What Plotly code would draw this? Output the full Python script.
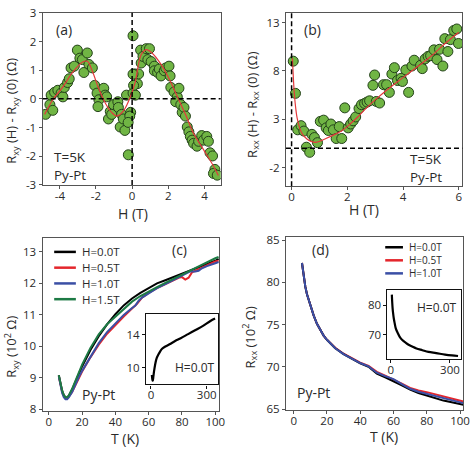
import plotly.graph_objects as go

# ---------------- data ----------------
# (a) Rxy(H)-Rxy(0) vs H at 5 K
a_H = [-4.79, -4.55, -4.39, -4.48, -4.29, -4.11, -3.93, -3.83, -3.75, -3.57, -3.48, -3.38, -3.2, -3.03,
       -2.89, -2.75, -2.67, -2.48, -2.39, -2.2, -2.07, -1.94, -1.84, -1.89, -1.57, -1.49, -1.41, -1.21,
       -1.31, -1.13, -1.03, -0.79, -0.76, -0.58, -0.66, -0.49, -0.40, -0.31, -0.21, -0.08, -0.13, -0.22,
       0.05, 0.05, 0.18, 0.15, 0.29, 0.36, 0.5, 0.47, 0.6, 0.78, 0.96, 0.87, 1.05, 1.23, 1.23, 1.41, 1.5,
       1.6, 1.78, 1.86, 2.04, 2.1, 2.14, 2.32, 2.5, 2.59, 2.41, 2.69, 2.77, 2.87, 2.95, 3.05, 3.14, 3.22,
       3.32, 3.40, 3.59, 3.68, 3.85, 3.95, 4.13, 4.22, 4.31, 4.45, 4.58, 4.5, 4.71, 0.08, 0.05]
a_R = [-0.54, -0.2, -0.4, 0.13, 0.23, 0.3, 0.2, 0.07, 0.4, 0.57, 0.7, 1.08, 1.14, 1.7,
       1.42, 1.37, 0.92, 1.6, 1.2, 1.08, 0.47, 0.2, -0.03, -0.27, 0.37, 0.13, 0.07, -0.44,
       -0.7, -0.54, -0.2, -0.1, -0.3, -0.54, -0.98, -0.7, -1.1, 0.13, -1.95, -0.47, -0.6, -0.82,
       2.2, 0.2, 0.13, 0.87, 0.53, 0.87, 1.25, 1.7, 1.48, 1.75, 1.75, 1.37, 1.3, 1.14, 0.98, 0.92, 1.04,
       0.8, 0.98, 1.08, 1.14, 0.8, 0.4, 0.24, 0.07, 0.37, -0.1, -0.2, -0.47, -0.3, -0.6, -0.98, -1.15, -1.31,
       -1.44, -1.55, -1.65, -1.48, -1.28, -1.44, -1.31, -1.48, -1.88, -1.99, -2.46, -2.6, -2.66, 0.47, 0.86]
a_fitH = [-4.84, -4.39, -3.84, -3.3, -2.76, -2.48, -2.21, -1.85, -1.48, -1.12, -0.85, -0.49, -0.13,
          0.15, 0.5, 0.78, 1.1, 1.6, 2.14, 2.5, 2.95, 3.4, 3.95, 4.49, 4.77]
a_fitR = [-0.54, -0.03, 0.41, 0.92, 1.28, 1.31, 0.98, 0.36, -0.15, -0.48, -0.6, -0.43, 0.02,
          0.53, 1.54, 1.72, 1.6, 1.2, 0.58, 0.08, -0.54, -1.21, -1.77, -2.33, -2.67]

# (b) Rxx(H)-Rxx(0) vs H at 5 K
b_H = [0.06, 0.14, 0.22, 0.34, 0.44, 0.53, 0.65, 0.73, 0.82, 0.93, 1.03, 1.15, 1.24, 1.32, 1.41, 1.5,
       1.6, 1.71, 1.8, 1.91, 2.03, 2.12, 2.21, 2.3, 2.42, 2.51, 2.62, 2.71, 2.8, 2.92, 2.98, 3.04, 3.16,
       3.3, 3.41, 3.51, 3.6, 3.69, 3.8, 3.93, 3.98, 4.1, 4.2, 4.32, 4.4, 4.63, 4.69, 4.79, 4.9, 4.99,
       5.11, 5.22, 5.31, 5.43, 5.5, 5.61, 5.7, 5.82, 5.93, 5.99]
b_R = [9.0, 5.67, 1.9, 2.33, 1.77, 0.1, -0.43, 1.43, 1.1, 0.57, 2.77, 2.9, 2.1, 1.83, 2.5, 1.9,
       1.0, 2.23, 1.0, 4.17, 2.1, 2.5, 2.83, 3.23, 4.1, 4.5, 4.63, 4.77, 4.9, 6.5, 7.57, 4.83, 4.67,
       6.57, 6.57, 5.77, 7.67, 8.33, 7.0, 7.23, 6.9, 8.1, 5.77, 8.5, 9.1, 8.57, 8.23, 9.23, 9.5, 9.57,
       10.17, 9.17, 10.23, 8.5, 11.33, 10.0, 11.23, 12.17, 12.33, 10.83]
b_fitH = [0.03, 0.06, 0.1, 0.15, 0.2, 0.3, 0.4, 0.55, 0.7, 0.85, 1.0, 1.2, 1.5, 1.8, 2.1, 2.4, 2.7,
          3.0, 3.5, 4.0, 4.5, 5.0, 5.5, 6.0]
b_fitR = [9.3, 7.5, 5.6, 4.1, 3.1, 2.0, 1.4, 0.95, 0.7, 0.6, 0.7, 0.95, 1.35, 1.8, 2.5, 3.3, 4.2,
          5.0, 6.2, 7.3, 8.4, 9.5, 10.8, 12.0]

# (c) Rxy (10^2 Ohm) vs T
c_T_black = [6, 7, 8, 9, 10, 11, 12, 14, 16, 18, 20, 25, 30, 35, 40, 45, 50, 55, 60, 65, 70, 75, 80, 85, 90, 95, 100, 102]
c_R_black = [9.08, 8.78, 8.58, 8.45, 8.38, 8.37, 8.42, 8.62, 8.88, 9.12, 9.36, 9.88, 10.32, 10.7, 11.02, 11.3,
             11.52, 11.7, 11.86, 12.0, 12.1, 12.2, 12.3, 12.4, 12.5, 12.6, 12.72, 12.78]
c_T_red = [6, 7, 8, 9, 10, 11, 12, 14, 16, 18, 20, 25, 30, 35, 40, 45, 50, 53, 56, 60, 65, 70, 75, 78, 80, 82,
           84, 86, 90, 95, 100, 102]
c_R_red = [9.05, 8.75, 8.55, 8.42, 8.35, 8.35, 8.4, 8.55, 8.78, 9.0, 9.2, 9.65, 10.05, 10.4, 10.68, 10.95,
           11.2, 11.35, 11.55, 11.7, 11.85, 11.98, 12.1, 12.18, 12.2, 12.12, 12.18, 12.35, 12.45, 12.58, 12.7, 12.72]
c_T_blue = [6, 7, 8, 9, 10, 11, 12, 14, 16, 18, 20, 25, 30, 35, 40, 45, 50, 52, 54, 56, 60, 65, 70, 75, 80, 85,
            88, 90, 92, 95, 100, 102]
c_R_blue = [9.05, 8.75, 8.52, 8.38, 8.32, 8.32, 8.38, 8.55, 8.8, 9.02, 9.22, 9.68, 10.1, 10.45, 10.72, 11.0,
            11.22, 11.3, 11.45, 11.55, 11.68, 11.85, 11.98, 12.12, 12.25, 12.38, 12.38, 12.4, 12.48, 12.55, 12.64, 12.68]
c_T_green = [6, 7, 8, 9, 10, 11, 12, 14, 16, 18, 20, 25, 30, 35, 40, 45, 50, 55, 60, 65, 70, 75, 80, 85, 90, 95, 100, 102]
c_R_green = [9.08, 8.8, 8.6, 8.45, 8.38, 8.38, 8.44, 8.65, 8.92, 9.18, 9.42, 9.95, 10.38, 10.7, 10.95, 11.2,
             11.42, 11.6, 11.75, 11.88, 12.02, 12.15, 12.3, 12.43, 12.55, 12.68, 12.8, 12.84]
c_in_T = [5, 8, 10, 13, 17, 22, 30, 40, 50, 60, 75, 100, 130, 160, 200, 240, 280, 320, 345]
c_in_R = [9.1, 8.5, 8.4, 8.9, 9.6, 10.3, 11.1, 11.6, 12.0, 12.3, 12.55, 12.85, 13.25, 13.6, 14.1, 14.6, 15.1, 15.7, 16.0]

# (d) Rxx (10^2 Ohm) vs T
d_T = [5, 6, 7, 8, 9, 10, 12, 14, 16, 18, 20, 25, 30, 35, 40, 45, 50, 55, 60, 65, 70, 75, 80, 85, 90, 95, 100, 102]
d_R_black = [82.3, 80.6, 79.5, 78.6, 77.9, 77.3, 76.1, 75.1, 74.3, 73.7, 73.2, 72.2, 71.5, 70.9, 70.4, 70.0,
             69.2, 68.75, 68.3, 67.8, 67.3, 66.9, 66.6, 66.3, 66.0, 65.8, 65.6, 65.5]
d_R_red = [82.3, 80.6, 79.5, 78.6, 77.9, 77.3, 76.1, 75.1, 74.3, 73.7, 73.2, 72.25, 71.55, 71.0, 70.5, 70.1,
           69.4, 68.95, 68.5, 68.0, 67.5, 67.2, 67.0, 66.75, 66.5, 66.25, 66.0, 65.9]
d_R_blue = [82.3, 80.6, 79.5, 78.6, 77.9, 77.3, 76.1, 75.1, 74.3, 73.7, 73.2, 72.2, 71.5, 70.95, 70.45, 70.05,
            69.3, 68.9, 68.55, 67.95, 67.4, 67.05, 66.8, 66.55, 66.3, 66.05, 65.8, 65.7]
d_in_T = [5, 7, 9, 11, 15, 20, 25, 35, 45, 58, 75, 90, 108, 130, 160, 191, 230, 275, 310, 341]
d_in_R = [83.7, 81.0, 79.0, 77.6, 75.5, 73.7, 72.1, 70.5, 69.2, 68.1, 67.2, 66.5, 65.9, 65.2, 64.6, 64.0, 63.6,
          63.1, 62.8, 62.6]

# tick labels
a_xticks = [-4, -2, 0, 2, 4]
a_xtext = ["-4", "-2", "0", "2", "4"]
a_yticks = [-3, -2, -1, 0, 1, 2, 3]
a_ytext = ["-3", "-2", "-1", "0", "1", "2", "3"]
b_xticks = [0, 2, 4, 6]
b_yticks = [-2, 3, 8, 13]
b_ytext = ["-2", "3", "8", "13"]
c_xticks = [0, 20, 40, 60, 80, 100]
c_yticks = [8, 9, 10, 11, 12, 13]
d_xticks = [0, 20, 40, 60, 80, 100]
d_yticks = [65, 70, 75, 80, 85]
ci_xticks = [0, 300]
ci_yticks = [10, 14]
di_xticks = [0, 300]
di_yticks = [70, 80]

c_legend = ["H=0.0T", "H=0.5T", "H=1.0T", "H=1.5T"]
d_legend = ["H=0.0T", "H=0.5T", "H=1.0T"]

# ---------------- styles ----------------
W, Hh = 474, 451
FONT = "Open Sans"
TXT = "#2a2a2a"
FRAME = "#555555"
GREEN_FILL = "#70b544"
GREEN_EDGE = "#24421a"
RED_FIT = "#e3393c"
COLS = ["#000000", "#e4262c", "#3b4fa5", "#1d7a45"]


def px(x):
    return x / W


def py(y):
    return 1 - y / Hh


fig = go.Figure()

marker = dict(size=10, color=GREEN_FILL, line=dict(color=GREEN_EDGE, width=1))
fig.add_trace(go.Scatter(x=a_H, y=a_R, mode="markers", marker=marker, xaxis="x", yaxis="y", showlegend=False))
fig.add_trace(go.Scatter(x=a_fitH, y=a_fitR, mode="lines", line=dict(color=RED_FIT, width=1.2, shape="spline"),
                         xaxis="x", yaxis="y", showlegend=False))
fig.add_trace(go.Scatter(x=b_H, y=b_R, mode="markers", marker=marker, xaxis="x2", yaxis="y2", showlegend=False))
fig.add_trace(go.Scatter(x=b_fitH, y=b_fitR, mode="lines", line=dict(color=RED_FIT, width=1.2, shape="spline"),
                         xaxis="x2", yaxis="y2", showlegend=False))

for T, R, col in [(c_T_black, c_R_black, COLS[0]), (c_T_red, c_R_red, COLS[1]),
                  (c_T_blue, c_R_blue, COLS[2]), (c_T_green, c_R_green, COLS[3])]:
    fig.add_trace(go.Scatter(x=T, y=R, mode="lines", line=dict(color=col, width=2),
                             xaxis="x3", yaxis="y3", showlegend=False))
fig.add_trace(go.Scatter(x=c_in_T, y=c_in_R, mode="lines", line=dict(color="#000", width=2.2, shape="spline"),
                         xaxis="x5", yaxis="y5", showlegend=False))

for R, col in [(d_R_red, COLS[1]), (d_R_black, COLS[0]), (d_R_blue, COLS[2])]:
    fig.add_trace(go.Scatter(x=d_T, y=R, mode="lines", line=dict(color=col, width=2),
                             xaxis="x4", yaxis="y4", showlegend=False))
fig.add_trace(go.Scatter(x=d_in_T, y=d_in_R, mode="lines", line=dict(color="#000", width=2.2, shape="spline"),
                         xaxis="x6", yaxis="y6", showlegend=False))


def ax(domain, rng, tickvals, ticktext=None, anchor=None, color=FRAME, lw=1.3, xdir=False):
    d = dict(domain=domain, range=rng, tickmode="array", tickvals=tickvals,
             showline=True, mirror=True, linecolor=color, linewidth=lw,
             ticks="outside", ticklen=3, tickcolor=color, tickwidth=1,
             showgrid=False, zeroline=False,
             tickfont=dict(family=FONT, size=11.5, color=TXT), anchor=anchor)
    if xdir:
        d["ticklabelstandoff"] = -3
    if ticktext is not None:
        d["ticktext"] = ticktext
    return d


fig.update_layout(
    width=W, height=Hh, margin=dict(l=0, r=0, t=0, b=0),
    paper_bgcolor="white", plot_bgcolor="white",
    font=dict(family=FONT, color=TXT),
    xaxis=ax([px(43.3), px(224)], [-4.95, 4.9], a_xticks, a_xtext, "y", xdir=True),
    yaxis=ax([py(183), py(5)], [-3, 3], a_yticks, a_ytext, "x"),
    xaxis2=ax([px(290.3), px(469.3)], [-0.2, 6.13], b_xticks, None, "y2", xdir=True),
    yaxis2=ax([py(184.3), py(5)], [-3.93, 14], b_yticks, b_ytext, "x2"),
    xaxis3=ax([px(43.3), px(222.7)], [-3.7, 102.5], c_xticks, None, "y3", xdir=True),
    yaxis3=ax([py(417), py(237.7)], [7.94, 13.45], c_yticks, None, "x3"),
    xaxis4=ax([px(290.3), px(470.3)], [-4.6, 102], d_xticks, None, "y4", xdir=True),
    yaxis4=ax([py(415.7), py(236.7)], [64.9, 85.4], d_yticks, None, "x4"),
    xaxis5=ax([px(148.3), px(221.5)], [-26, 362], ci_xticks, None, "y5", "#111", 1.3, xdir=True),
    yaxis5=ax([py(389.3), py(317)], [7.96, 16.5], ci_yticks, None, "x5", "#111", 1.3),
    xaxis6=ax([px(393.3), px(468.3)], [-17, 358], di_xticks, None, "y6", "#111", 1.3, xdir=True),
    yaxis6=ax([py(363.3), py(291.7)], [61.5, 85.3], di_yticks, None, "x6", "#111", 1.3),
)

dash = dict(color="black", width=1.5, dash="5px,3px")
shapes = [
    dict(type="line", xref="x", yref="y domain", x0=0, x1=0, y0=0, y1=1, line=dash),
    dict(type="line", xref="x domain", yref="y", x0=0, x1=1, y0=0, y1=0, line=dash),
    dict(type="line", xref="x2", yref="y2 domain", x0=0, x1=0, y0=0, y1=1, line=dash),
    dict(type="line", xref="x2 domain", yref="y2", x0=0, x1=1, y0=0, y1=0, line=dash),
]

ann = []


def text(x, y, s, size=14, xanchor="center", angle=0):
    ann.append(dict(x=px(x), y=py(y), xref="paper", yref="paper", text=s, showarrow=False,
                    font=dict(family=FONT, size=size, color=TXT), xanchor=xanchor, yanchor="middle",
                    textangle=angle))


# panel labels and notes
text(65, 22, "(a)")
text(53, 154, "T=5K", 13.5, "left")
text(53, 173, "Py-Pt", 13.5, "left")
text(317, 22, "(b)")
text(414, 156, "T=5K", 13.5, "left")
text(414, 175, "Py-Pt", 13.5, "left")
text(182, 250, "(c)")
text(100, 400, "Py-Pt", 14)
text(198, 372, "H=0.0T", 12)
text(325, 250, "(d)")
text(318.5, 398, "Py-Pt", 14)
text(443.5, 310, "H=0.0T", 12)

# axis titles
text(12.5, 106, "R<sub>xy</sub> (H) - R<sub>xy</sub> (0) (Ω)", 13, angle=-90)
text(135, 213, "H (T)", 14)
text(256, 100, "R<sub>xx</sub> (H) - R<sub>xx</sub> (0) (Ω)", 13, angle=-90)
text(369, 208, "H (T)", 14)
text(11.5, 350, "R<sub>xy</sub> (10<sup>2</sup> Ω)", 13, angle=-90)
text(127, 445, "T (K)", 14)
text(253.5, 341, "R<sub>xx</sub> (10<sup>2</sup> Ω)", 13, angle=-90)
text(390, 443, "T (K)", 14)

# legends (c)
for i, (lab, col) in enumerate(zip(c_legend, COLS)):
    yy = 252.3 + 16.3 * i
    shapes.append(dict(type="line", xref="paper", yref="paper", x0=px(55), x1=px(77), y0=py(yy), y1=py(yy),
                       line=dict(color=col, width=2.5)))
    text(81.5, yy, lab, 11.5, "left")
# legends (d)
for i, (lab, col) in enumerate(zip(d_legend, COLS[:3])):
    yy = 247.5 + 13.5 * i
    shapes.append(dict(type="line", xref="paper", yref="paper", x0=px(391), x1=px(409), y0=py(yy), y1=py(yy),
                       line=dict(color=col, width=2.5)))
    text(413.5, yy, lab, 10, "left")

fig.update_layout(shapes=shapes, annotations=ann)
fig.write_html("out.html")
